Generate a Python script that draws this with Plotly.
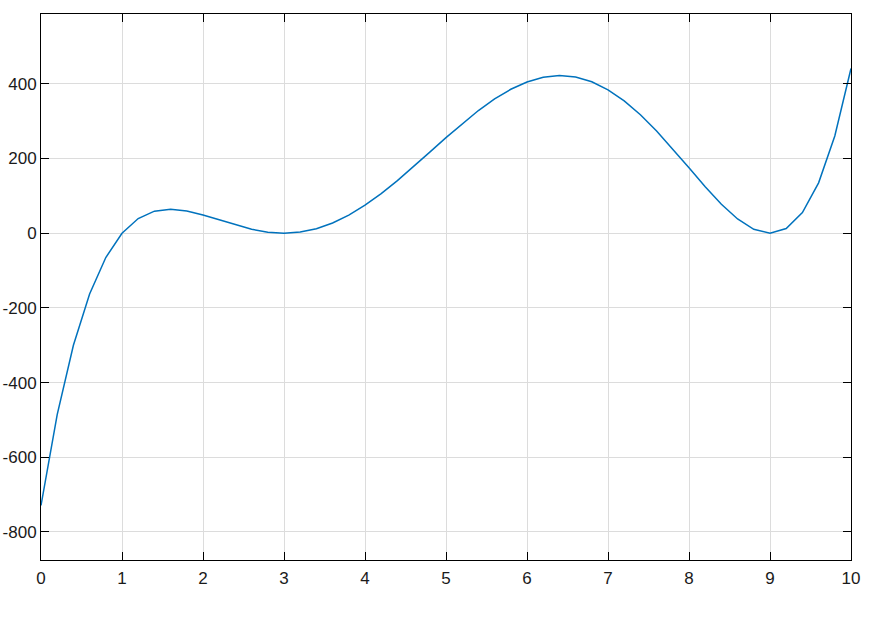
import plotly.graph_objects as go

# sample points (step 0.2)
x = [0.0, 0.2, 0.4, 0.6, 0.8, 1.0, 1.2, 1.4, 1.6, 1.8,
     2.0, 2.2, 2.4, 2.6, 2.8, 3.0, 3.2, 3.4, 3.6, 3.8,
     4.0, 4.2, 4.4, 4.6, 4.8, 5.0, 5.2, 5.4, 5.6, 5.8,
     6.0, 6.2, 6.4, 6.6, 6.8, 7.0, 7.2, 7.4, 7.6, 7.8,
     8.0, 8.2, 8.4, 8.6, 8.8, 9.0, 9.2, 9.4, 9.6, 9.8, 10.0]
y = [-729, -485.7, -300.0, -162.6, -65.1, 0, 39.4, 59.1, 64.4, 59.7,
     49, 35.5, 22.0, 10.5, 2.8, 0, 3.0, 12.0, 27.3, 48.5,
     75, 106.2, 141.0, 178.4, 217.2, 256, 293.5, 328.5, 359.5, 385.4,
     405, 417.5, 422.0, 418.0, 405.4, 384, 354.3, 317.2, 273.7, 225.6,
     175, 124.6, 77.7, 38.1, 10.5, 0, 12.6, 55.1, 134.9, 260.4, 441]

xticks = [0, 1, 2, 3, 4, 5, 6, 7, 8, 9, 10]
yticks = [-800, -600, -400, -200, 0, 200, 400]
ylabels = ["-800", "-600", "-400", "-200", "0", "200", "400"]

fig = go.Figure()
fig.add_trace(go.Scatter(x=x, y=y, mode="lines",
                         line=dict(color="#0072BD", width=1.5)))

axis_style = dict(showline=True, linecolor="black", linewidth=1, mirror="ticks",
                  ticks="inside", ticklen=8, tickwidth=1, tickcolor="black",
                  showgrid=True, gridcolor="#dcdcdc", gridwidth=1,
                  zeroline=False, automargin=False,
                  tickfont=dict(family="Liberation Sans, Arial", size=17, color="#1a1a1a"))

fig.update_xaxes(range=[0, 10], tickvals=xticks, ticklabelstandoff=3, **axis_style)
fig.update_yaxes(range=[-875, 587], tickvals=yticks, ticktext=ylabels, **axis_style)

fig.update_layout(width=875, height=619, showlegend=False,
                  plot_bgcolor="white", paper_bgcolor="white",
                  margin=dict(l=41, r=24, t=14, b=59))

# drop the default 8px page margin so the figure sits at the window corner
fig.write_html("out.html", config={"displayModeBar": False},
               post_script="document.body.style.margin='0';")
